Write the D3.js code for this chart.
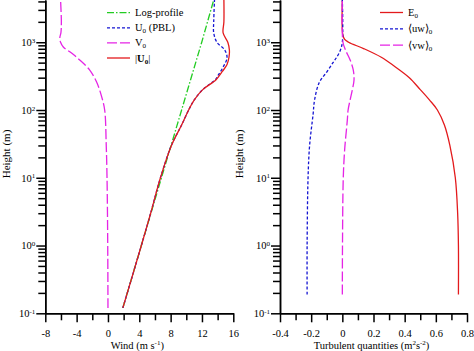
<!DOCTYPE html>
<html>
<head>
<meta charset="utf-8">
<script src="https://cdn.jsdelivr.net/npm/d3@7"></script>
<style>
  body { margin: 0; background: #fff; }
  svg { display: block; font-family: "Liberation Serif", "Times New Roman", serif; }
  .axis path, .axis line { stroke: #000; stroke-width: 1.5; }
  .axis text { font-size: 10.5px; fill: #000; }
</style>
</head>
<body>
<script>
// ---- data ----
// left panel: wind profiles (m s-1) vs height (m)
var logHeights = [0.12, 1, 10, 100, 1000, 4200];
var logWind = [1.9, 4.26, 6.83, 9.4, 11.97, 13.5];

var pblHeights = [0.12, 1, 3, 10, 30, 60, 100, 140, 200, 280, 330, 430, 590, 770, 1000, 1370, 2000, 4200];
var pblWind = [1.9, 4.26, 5.45, 6.7, 8.1, 9.4, 10.3, 11.0, 12.1, 13.7, 14.1, 14.7, 15.2, 14.9, 13.9, 13.5, 13.5, 13.6];

var vHeights = [0.12, 1, 10, 30, 100, 156, 259, 391, 548, 692, 851, 1000, 1156, 1400, 2000, 4200];
var vWind = [0, -0.03, -0.12, -0.22, -0.42, -0.8, -1.45, -2.35, -3.6, -4.65, -5.7, -6.05, -6.15, -6.0, -5.95, -6.05];

var modHeights = [0.12, 1, 3, 10, 30, 60, 100, 140, 200, 280, 370, 470, 600, 770, 1000, 1370, 2000, 4200];
var modWind = [1.9, 4.26, 5.45, 6.7, 8.1, 9.4, 10.3, 11.0, 12.1, 13.8, 14.6, 15.2, 15.45, 15.5, 15.3, 14.7, 14.8, 14.8];

// right panel: turbulent quantities (m2 s-2) vs height (m)
var eHeights = [0.19, 1, 3, 10, 30, 60, 100, 140, 200, 300, 450, 600, 800, 1000, 1100, 1300, 4200];
var eVals = [0.745, 0.745, 0.74, 0.725, 0.69, 0.655, 0.61, 0.56, 0.5, 0.43, 0.33, 0.25, 0.14, 0.04, 0.015, 0.003, 0];

var uwHeights = [0.19, 1, 10, 30, 85, 141, 255, 363, 500, 607, 769, 1000, 4200];
var uwVals = [-0.226, -0.226, -0.22, -0.21, -0.188, -0.178, -0.148, -0.1, -0.06, -0.035, -0.012, 0, 0];

var vwHeights = [0.19, 1, 10, 26, 71, 100, 141, 198, 278, 391, 548, 769, 1000, 4200];
var vwVals = [0, 0.001, 0.006, 0.015, 0.032, 0.037, 0.05, 0.064, 0.075, 0.07, 0.05, 0.02, 0.004, 0];

var windTicks = [-8, -4, 0, 4, 8, 12, 16];
var windMinor = [-6, -2, 2, 6, 10, 14];
var turbTicks = [-0.4, -0.2, 0, 0.2, 0.4, 0.6, 0.8];
var turbMinor = [-0.3, -0.1, 0.1, 0.3, 0.5, 0.7];
var heightTicks = [0.1, 1, 10, 100, 1000];

var colors = {red: "#e31a1c", blue: "#1414d2", green: "#22cc22", magenta: "#e524e5"};
var styles = {
  solid: null,
  dash: "3,2",
  longdash: "10,3",
  dashdot: "7,2,1.5,2"
};

// ---- layout ----
var _width = 474, _height = 351;
var yBottom = 313.3, yTop = 0;
var serif = "Liberation Serif, Times New Roman, serif";

var svg = d3.select("body").append("svg")
  .attr("width", _width)
  .attr("height", _height);

var y = d3.scaleLog().domain([0.1, 4200]).range([yBottom, yTop]);

var heightMinor = [];
[-1, 0, 1, 2, 3].forEach(function (k) {
  for (var m = 2; m <= 9; m++) {
    var v = m * Math.pow(10, k);
    if (v <= 4200) heightMinor.push(v);
  }
});

function renderPanel(p) {
  var x = d3.scaleLinear().domain(p.domain).range(p.range);
  var g = svg.append("g");

  // minor ticks first, majors with labels on top
  g.append("g")
    .attr("class", "axis")
    .attr("transform", "translate(0," + yBottom + ")")
    .call(d3.axisBottom(x).tickValues(p.minor).tickSize(7).tickSizeOuter(0).tickFormat(""));

  g.append("g")
    .attr("class", "axis")
    .attr("transform", "translate(0," + yBottom + ")")
    .call(d3.axisBottom(x).tickValues(p.ticks).tickSize(9).tickSizeOuter(0)
      .tickPadding(7).tickFormat(p.format))
    .attr("font-family", serif);

  g.append("g")
    .attr("class", "axis")
    .attr("transform", "translate(" + p.range[0] + ",0)")
    .call(d3.axisLeft(y).tickValues(heightMinor).tickSize(7).tickSizeOuter(0).tickFormat(""));

  var yAx = g.append("g")
    .attr("class", "axis")
    .attr("transform", "translate(" + p.range[0] + ",0)")
    .call(d3.axisLeft(y).tickValues(heightTicks).tickSize(9).tickSizeOuter(0)
      .tickPadding(1).tickFormat(function () { return "10"; }))
    .attr("font-family", serif);

  yAx.selectAll(".tick text").each(function (d) {
    d3.select(this).append("tspan")
      .attr("dy", "-0.45em")
      .attr("font-size", "7px")
      .text(Math.round(Math.log10(d)));
  });

  // axis titles (superscripts raised by fixed px so the baseline comes back)
  var xt = g.append("text")
    .attr("x", (p.range[0] + p.range[1]) / 2 - 2)
    .attr("y", 348.5)
    .attr("text-anchor", "middle")
    .attr("font-size", "10.5px");
  xt.append("tspan").text(p.xTitle[0]);
  xt.append("tspan").attr("dy", -4).attr("font-size", "7px").text(p.xTitle[1]);
  if (p.xTitle.length > 2) {
    xt.append("tspan").attr("dy", 4).text(p.xTitle[2]);
    xt.append("tspan").attr("dy", -4).attr("font-size", "7px").text(p.xTitle[3]);
  }
  xt.append("tspan").attr("dy", 4).text(")");

  g.append("text")
    .attr("transform", "translate(" + p.titleX + ",154) rotate(-90)")
    .attr("text-anchor", "middle")
    .attr("font-size", "11px")
    .text("Height (m)");

  // profiles
  p.series.forEach(function (s) {
    var pts = s.h.map(function (h, i) { return [s.v[i], h]; });
    var line = d3.line()
      .curve(s.curve || d3.curveCatmullRom)
      .x(function (d) { return x(d[0]); })
      .y(function (d) { return y(d[1]); });
    g.append("path")
      .datum(pts)
      .attr("d", line)
      .attr("fill", "none")
      .attr("stroke", colors[s.color])
      .attr("stroke-width", 1.3)
      .attr("stroke-dasharray", styles[s.style]);
  });

  // legend
  var lg = g.append("g");
  p.series.forEach(function (s, i) {
    var ly = p.legend.y + i * p.legend.step;
    lg.append("line")
      .attr("x1", p.legend.x).attr("x2", p.legend.x + 23)
      .attr("y1", ly).attr("y2", ly)
      .attr("stroke", colors[s.color])
      .attr("stroke-width", 1.3)
      .attr("stroke-dasharray", styles[s.style]);
    var t = lg.append("text")
      .attr("x", p.legend.x + 28)
      .attr("y", ly + 3.5)
      .attr("font-size", "10.5px");
    s.label.forEach(function (part) {
      var ts = t.append("tspan").text(part.t);
      if (part.sub) ts.attr("font-size", "7px").attr("dy", 2);
      if (part.up) ts.attr("dy", -2);
      if (part.bold) ts.attr("font-weight", "bold");
    });
  });
}

function numFmt(d) {
  return d === 0 ? "0" : String(d);
}

renderPanel({
  domain: [-8, 16], range: [45.3, 233.3],
  ticks: windTicks, minor: windMinor, format: numFmt,
  xTitle: ["Wind (m s", "-1"],
  titleX: 10,
  legend: {x: 107, y: 12.7, step: 15.1},
  series: [
    {h: logHeights, v: logWind, color: "green", style: "dashdot", curve: d3.curveLinear,
      label: [{t: "Log-profile"}]},
    {h: pblHeights, v: pblWind, color: "blue", style: "dash",
      label: [{t: "U"}, {t: "0", sub: true}, {t: " (PBL)", up: true}]},
    {h: vHeights, v: vWind, color: "magenta", style: "longdash",
      label: [{t: "V"}, {t: "0", sub: true}]},
    {h: modHeights, v: modWind, color: "red", style: "solid",
      label: [{t: "|"}, {t: "U", bold: true}, {t: "0", sub: true, bold: true}, {t: "|", up: true}]}
  ]
});

renderPanel({
  domain: [-0.4, 0.8], range: [280, 467],
  ticks: turbTicks, minor: turbMinor,
  format: function (d) { return d === 0 ? "0" : d.toFixed(1); },
  xTitle: ["Turbulent quantities (m", "2", "s", "-2"],
  titleX: 243,
  legend: {x: 380, y: 12.5, step: 16.3},
  series: [
    {h: eHeights, v: eVals, color: "red", style: "solid",
      label: [{t: "E"}, {t: "0", sub: true}]},
    {h: uwHeights, v: uwVals, color: "blue", style: "dash",
      label: [{t: "\u27E8uw\u27E9"}, {t: "0", sub: true}]},
    {h: vwHeights, v: vwVals, color: "magenta", style: "longdash",
      label: [{t: "\u27E8vw\u27E9"}, {t: "0", sub: true}]}
  ]
});
</script>
</body>
</html>
